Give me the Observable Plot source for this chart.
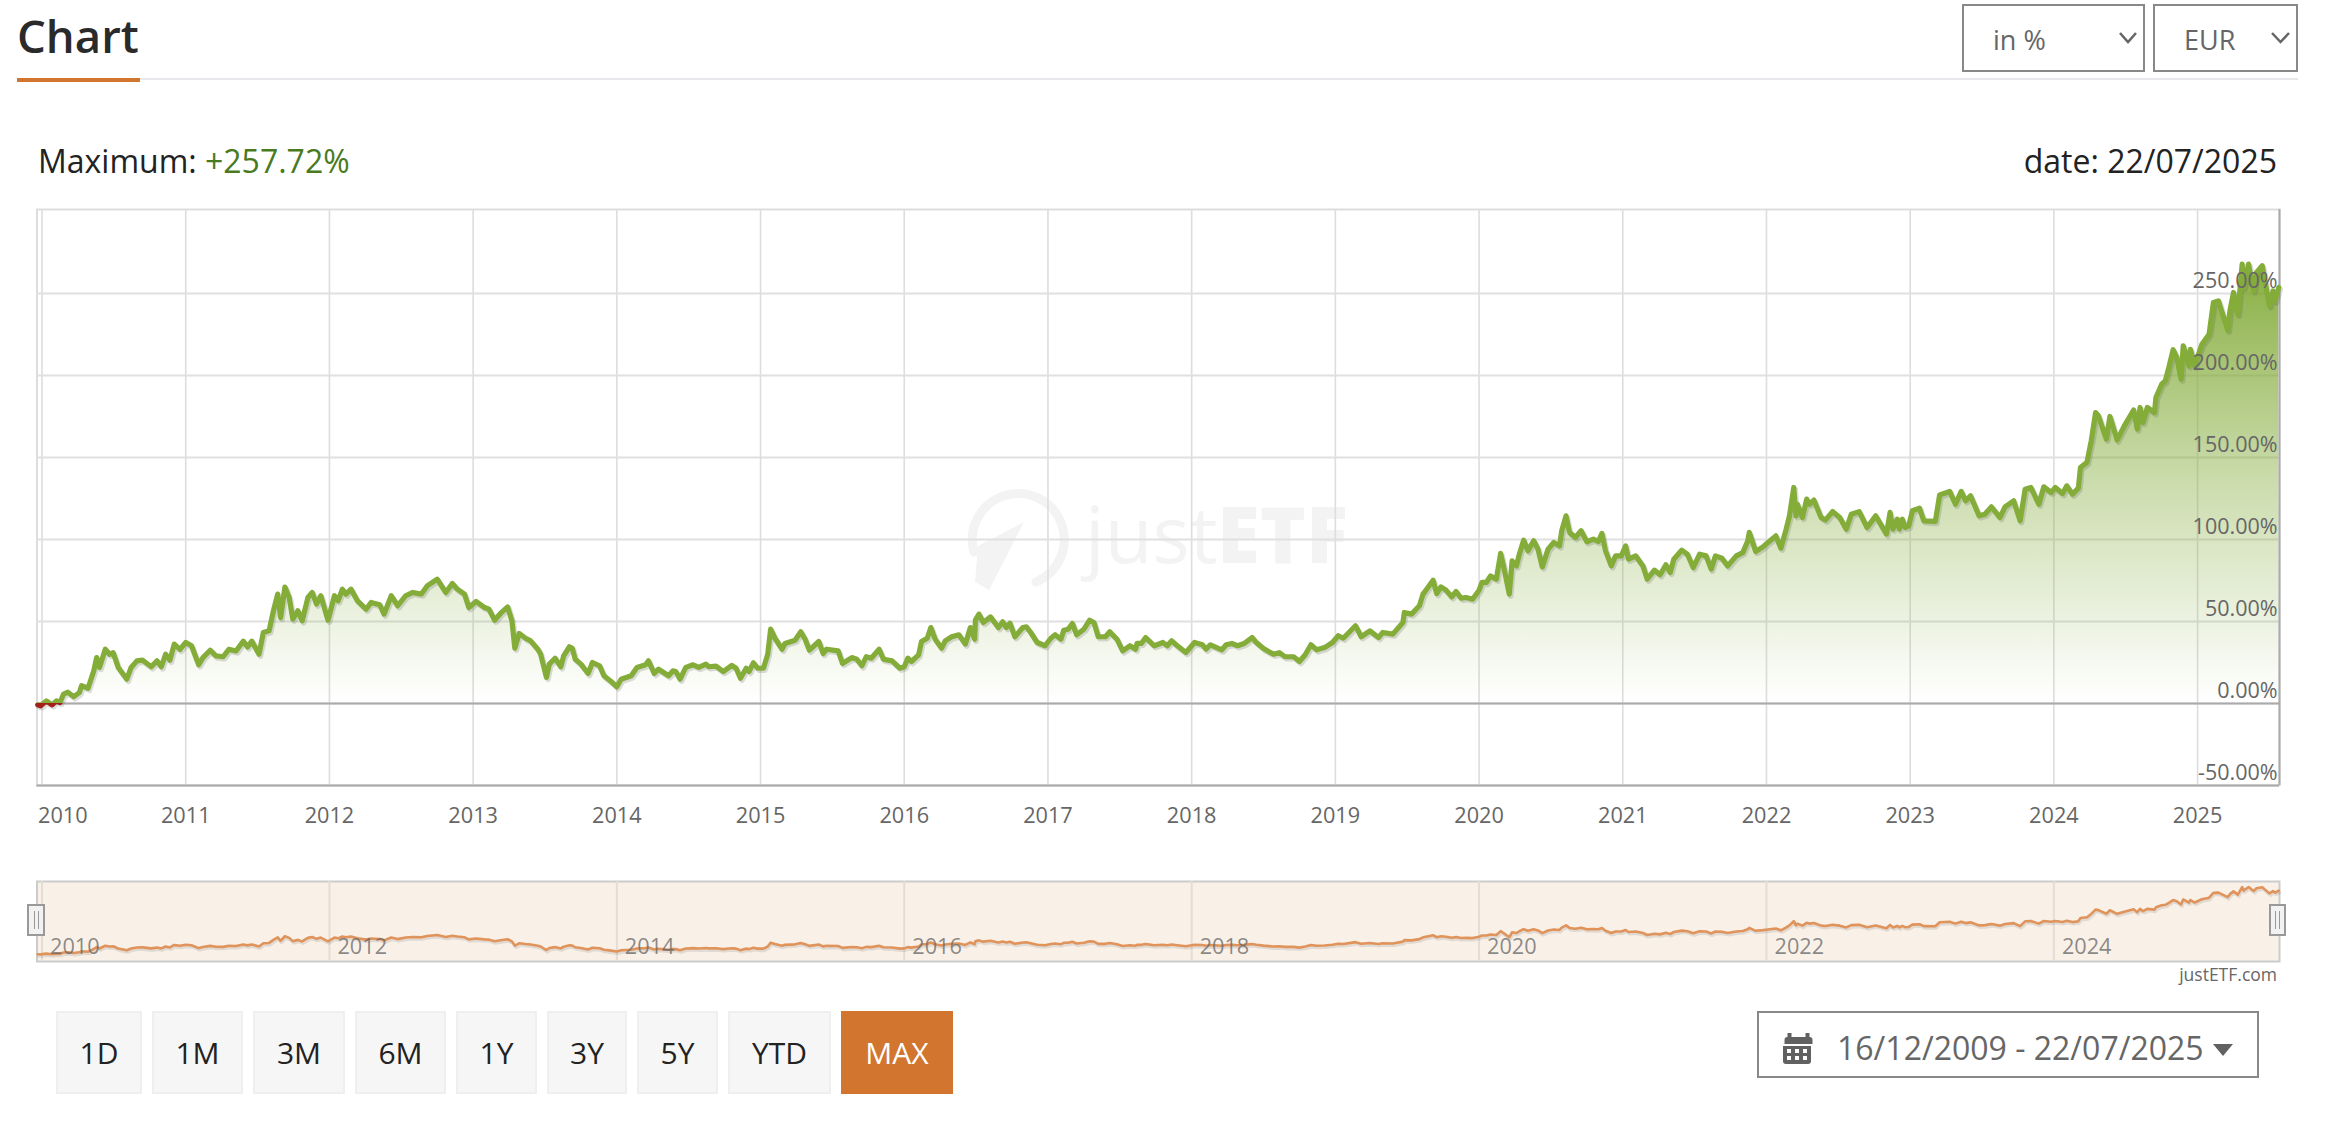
<!DOCTYPE html>
<html><head><meta charset="utf-8">
<script src="https://cdn.jsdelivr.net/npm/d3@7"></script>
<script src="https://cdn.jsdelivr.net/npm/@observablehq/plot@0.6"></script>
<style>
html,body{margin:0;padding:0;background:#fff}
#page{position:relative;width:2334px;height:1140px;overflow:hidden;font-family:"Open Sans",sans-serif;color:#222}
#page>*{position:absolute}
.t{line-height:1;white-space:nowrap}
.box{box-sizing:border-box;border:2.5px solid #888;background:#fff}
.btn{box-sizing:border-box;top:1011px;height:83px;background:#f6f6f6;border:2px solid #efefef;display:flex;align-items:center;justify-content:center;font-size:30px;color:#222}
#main,#nav{left:0;top:0;width:2334px;height:1140px}
#main svg,#nav svg{max-width:none;height:auto}
svg{position:absolute;left:0}
</style></head><body>
<div id="page">
  <div style="left:17px;top:78px;width:2281px;height:2px;background:#e6e8ec"></div>
  <div style="left:17px;top:78px;width:123px;height:4px;background:#d2752e"></div>
  <div class="t" style="left:17px;top:13px;font-size:45.500px;font-weight:600;color:#2a2a2a">Chart</div>
  <div class="box" style="left:1962px;top:4px;width:183px;height:68px"></div>
  <div class="t" style="left:1993px;top:26px;font-size:27px;color:#666">in %</div>
  <div class="box" style="left:2153px;top:4px;width:145px;height:68px"></div>
  <div class="t" style="left:2184px;top:26px;font-size:27px;color:#666">EUR</div>
  <svg style="left:0;top:0" width="2334" height="80"><path d="M2120 33l8 9 8-9M2272 33l8.500 9 8.500-9" fill="none" stroke="#666" stroke-width="2.500"/></svg>
  <div class="t" style="left:38px;top:145px;font-size:32px">Maximum: <span style="color:#4a7a1e">+257.72%</span></div>
  <div class="t" style="right:57px;top:145px;font-size:32px">date: 22/07/2025</div>
  <svg id="wm" style="left:0;top:0" width="2334" height="800">
    <g fill="#f3f3f3">
      <path d="M974 552a46 46 0 1 1 62 30" fill="none" stroke="#f3f3f3" stroke-width="9" stroke-linecap="round"/>
      <path d="M1024 522l-46 24l-3 36l14 8z"/>
      <text x="1085" y="563" font-size="78" font-family="Open Sans">just</text>
      <text x="1217" y="563" font-size="78" font-weight="800" font-family="Open Sans">ETF</text>
    </g>
  </svg>
  <div id="main"></div>
  <div id="nav"></div>
  <div class="t" style="right:57px;top:966px;font-size:17.500px;color:#666">justETF.com</div>
  <div class="box" style="left:27px;top:904px;width:18px;height:32px;background:#f2f2f2;border:2px solid #999"></div>
  <div style="left:34px;top:911px;width:3px;height:18px;border-left:1.500px solid #999;border-right:1.500px solid #999"></div>
  <div class="box" style="left:2269px;top:904px;width:17px;height:32px;background:#f2f2f2;border:2px solid #999"></div>
  <div style="left:2275px;top:911px;width:3px;height:18px;border-left:1.500px solid #999;border-right:1.500px solid #999"></div>
  <div class="box" style="left:1757px;top:1011px;width:502px;height:67px"></div>
  <svg style="left:0;top:1px" width="2334" height="1140">
    <g fill="#616161">
      <path d="M1789 1032h4v4h14v-4h4v4h0a3 3 0 0 1 3 3v4h-28v-4a3 3 0 0 1 3-3z" transform="translate(-1.500 0)"/>
      <path fill-rule="evenodd" d="M1783 1045h28v15a3 3 0 0 1-3 3h-22a3 3 0 0 1-3-3zM1787 1048v4h4v-4zM1795 1048v4h4v-4zM1803 1048v4h4v-4zM1787 1055v4h4v-4zM1795 1055v4h4v-4zM1803 1055v4h4v-4z"/>
      <path d="M2213 1043h20l-10 12z"/>
    </g>
  </svg>
  <div class="t" style="left:1837px;top:1032px;font-size:32px;color:#666">16/12/2009 - 22/07/2025</div>
</div>
<script>
// Performance in %: [decimal year, percent]
const seg2010 = [[2009.97,-0.8],[2009.99,-1.4],[2010.03,1.6],[2010.07,-0.8],[2010.10,1.6],[2010.125,0.6],[2010.15,5.7],[2010.18,6.9],[2010.22,4.1],[2010.26,6.7],[2010.275,10.8],[2010.32,9.3],[2010.36,19.9],[2010.38,28],[2010.40,22],[2010.44,33.1],[2010.47,30],[2010.495,31],[2010.53,22],[2010.59,14.8],[2010.62,22],[2010.66,26],[2010.70,26.4],[2010.76,22.4],[2010.80,26],[2010.83,22.4],[2010.86,30],[2010.89,26.4],[2010.92,36.2],[2010.96,33]];
const seg2011 = [[2011.00,37.2],[2011.04,35.2],[2011.09,23.6],[2011.12,28],[2011.17,32.5],[2011.21,29],[2011.26,28.5],[2011.30,33],[2011.35,32],[2011.40,38],[2011.43,34.5],[2011.46,38],[2011.51,30],[2011.54,43.3],[2011.58,44.3],[2011.61,56.5],[2011.64,66.7],[2011.66,52.4],[2011.69,71],[2011.72,64.6],[2011.745,51.4],[2011.78,56.5],[2011.81,50.4],[2011.85,64.6],[2011.88,67.7],[2011.91,60.6],[2011.94,65.7],[2011.99,50.8]];
const seg2012 = [[2012.035,65.7],[2012.06,62.6],[2012.09,69.7],[2012.115,66.7],[2012.15,69.7],[2012.195,62.6],[2012.255,57.5],[2012.29,61.6],[2012.35,60.2],[2012.38,54.5],[2012.43,65.7],[2012.475,59.6],[2012.53,65.7],[2012.58,67.7],[2012.64,66.7],[2012.68,71.7],[2012.75,75.8],[2012.81,67.7],[2012.855,73.2],[2012.89,69.7],[2012.94,66.7],[2012.97,58.5]];
const seg2013 = [[2013.02,62.2],[2013.08,58.5],[2013.11,57.5],[2013.15,50.8],[2013.19,54.9],[2013.24,58.9],[2013.27,50.4],[2013.29,33.7],[2013.32,42.7],[2013.365,39.8],[2013.40,38.2],[2013.45,33.1],[2013.47,30],[2013.51,15.9],[2013.53,24],[2013.57,27.6],[2013.61,22.4],[2013.63,29],[2013.67,34.6],[2013.69,33.7],[2013.71,27],[2013.75,24],[2013.80,18.3],[2013.83,25],[2013.88,23],[2013.91,16.9],[2013.96,13.4]];
const seg2014 = [[2014.00,10.2],[2014.03,14.8],[2014.10,16.9],[2014.14,22],[2014.20,23.6],[2014.22,26],[2014.26,18.3],[2014.29,20.9],[2014.36,16.9],[2014.39,19.9],[2014.41,19.5],[2014.44,14.8],[2014.48,22],[2014.53,23.6],[2014.57,22],[2014.62,24],[2014.64,22.4],[2014.69,22.8],[2014.74,19.5],[2014.80,23.2],[2014.83,21.5],[2014.86,15.4],[2014.90,21.5],[2014.92,19.5],[2014.95,24.8],[2014.98,21.5]];
const seg2015 = [[2015.02,21.5],[2015.05,30],[2015.07,45.3],[2015.10,39.8],[2015.15,33.1],[2015.17,36.6],[2015.24,38.6],[2015.28,43.7],[2015.31,39.2],[2015.34,32.5],[2015.405,37.8],[2015.435,30.5],[2015.46,33.1],[2015.54,32.1],[2015.57,24.4],[2015.635,28],[2015.67,27],[2015.705,23],[2015.735,28.5],[2015.77,27.6],[2015.825,33.1],[2015.855,27],[2015.915,26],[2015.97,21.5]];
const seg2016 = [[2016.00,22.4],[2016.025,27.6],[2016.05,25.6],[2016.10,29.7],[2016.12,37.8],[2016.16,39.8],[2016.185,46.3],[2016.215,39.2],[2016.26,33.7],[2016.285,38.2],[2016.33,40.7],[2016.38,41.9],[2016.425,36.2],[2016.46,46.3],[2016.49,39.2],[2016.495,50.8],[2016.52,54.5],[2016.55,49.4],[2016.60,52.8],[2016.655,46.3],[2016.685,49.8],[2016.71,46.3],[2016.735,49],[2016.77,40.7],[2016.825,46.3],[2016.85,46.7],[2016.88,43.3],[2016.925,37.2],[2016.98,35.2]];
const seg2017 = [[2017.02,39.8],[2017.05,41.9],[2017.09,39.2],[2017.11,44.7],[2017.14,45.3],[2017.17,48.8],[2017.20,41.9],[2017.25,45.3],[2017.29,50.8],[2017.32,49.4],[2017.35,40.7],[2017.40,40.7],[2017.43,43.7],[2017.48,39.2],[2017.52,32.1],[2017.57,35.2],[2017.61,33.1],[2017.62,36.6],[2017.65,36.6],[2017.68,40.2],[2017.74,35.2],[2017.80,37.2],[2017.83,35.2],[2017.86,38.2],[2017.90,35.2],[2017.96,31.1]];
const seg2018 = [[2018.02,37.2],[2018.075,35.8],[2018.10,33.1],[2018.13,35.8],[2018.21,32.7],[2018.24,35.8],[2018.28,36.6],[2018.32,35.2],[2018.365,36.6],[2018.42,40.2],[2018.45,37.2],[2018.50,33.5],[2018.57,30],[2018.61,31],[2018.65,28.5],[2018.71,28.5],[2018.75,25.6],[2018.79,29.7],[2018.83,35.8],[2018.87,32.7],[2018.925,34.1],[2018.98,37.2]];
const seg2019 = [[2019.02,41.3],[2019.055,39.8],[2019.14,47.4],[2019.18,40.7],[2019.24,44.3],[2019.30,40.2],[2019.33,43.3],[2019.40,42.3],[2019.47,49.4],[2019.48,55.5],[2019.53,54.5],[2019.585,59.6],[2019.61,66.7],[2019.64,70.3],[2019.68,75.2],[2019.705,67],[2019.735,71.1],[2019.77,69.1],[2019.81,65],[2019.84,68.3],[2019.875,64.2],[2019.91,64.6],[2019.955,63.6]];
const seg2020 = [[2020.00,69.1],[2020.02,73.8],[2020.05,73.8],[2020.08,77.8],[2020.12,75.8],[2020.15,91.5],[2020.175,81.9],[2020.21,66.7],[2020.23,87],[2020.26,83.9],[2020.28,91],[2020.31,99.6],[2020.34,93.1],[2020.38,99.2],[2020.41,94.1],[2020.44,83.3],[2020.48,94.1],[2020.52,98.2],[2020.56,96.1],[2020.575,105.3],[2020.605,114.4],[2020.63,104.3],[2020.67,101.2],[2020.71,105.3],[2020.75,98.6],[2020.795,100.2],[2020.83,98.8],[2020.855,103.7],[2020.88,93.1],[2020.92,83.9],[2020.95,90],[2020.99,90]];
const seg2021 = [[2021.02,96.1],[2021.04,88],[2021.09,90],[2021.14,83.9],[2021.17,75.8],[2021.22,81.3],[2021.26,78.5],[2021.30,84.6],[2021.33,79.9],[2021.355,88],[2021.41,93.5],[2021.45,91],[2021.49,82.9],[2021.535,91],[2021.58,90],[2021.615,81.9],[2021.645,90],[2021.69,88.6],[2021.73,83.9],[2021.79,90],[2021.835,92],[2021.87,99.2],[2021.88,104.3],[2021.925,92.7],[2021.975,95.5]];
const seg2022 = [[2022.01,98.2],[2022.065,102.2],[2022.10,94.7],[2022.135,105.7],[2022.16,114.4],[2022.19,131.7],[2022.205,114.4],[2022.215,121.5],[2022.25,113.4],[2022.28,124.6],[2022.30,121.5],[2022.33,124],[2022.38,113.4],[2022.41,111.8],[2022.46,117],[2022.51,113.4],[2022.555,106.3],[2022.59,115.4],[2022.645,117],[2022.70,107.3],[2022.76,114.4],[2022.835,103.3],[2022.86,116.5],[2022.88,106.3],[2022.91,112.4],[2022.925,106.3],[2022.945,112.4],[2022.965,107.3],[2022.99,108.3]];
const seg2023 = [[2023.015,117.5],[2023.065,119.1],[2023.095,111.4],[2023.175,111],[2023.205,127.2],[2023.275,129.3],[2023.315,121.5],[2023.355,129.3],[2023.385,123.6],[2023.42,126.6],[2023.48,114.4],[2023.52,115.4],[2023.565,119.9],[2023.625,113.4],[2023.66,119.9],[2023.72,123.6],[2023.765,111.4],[2023.80,130.7],[2023.84,131.7],[2023.895,121.5],[2023.93,132.1],[2023.98,128.7]];
const seg2024 = [[2024.01,131.7],[2024.06,128],[2024.09,132.7],[2024.13,127.6],[2024.17,131.3],[2024.185,143.9],[2024.23,147],[2024.26,160.2],[2024.29,177.4],[2024.31,175.4],[2024.365,161.2],[2024.39,175],[2024.44,160.6],[2024.49,169.3],[2024.555,178.9],[2024.58,167.3],[2024.60,180.5],[2024.62,171.3],[2024.65,180.5],[2024.70,177.4],[2024.71,186.6],[2024.75,194.7],[2024.775,196.7],[2024.80,204.9],[2024.83,215.7],[2024.855,211],[2024.885,197.8],[2024.90,218.1],[2024.94,205.9],[2024.95,216],[2024.98,205.9]];
const seg2025 = [[2025.03,219.1],[2025.08,225.2],[2025.11,244.5],[2025.145,245.5],[2025.21,227.6],[2025.225,239.4],[2025.25,250.6],[2025.28,237.4],[2025.31,267.9],[2025.32,253.7],[2025.355,267.9],[2025.39,251.6],[2025.41,262.8],[2025.45,266.9],[2025.50,242.5],[2025.525,251.6],[2025.54,245.5],[2025.565,253.7]];

const yearTicks = [2011,2012,2013,2014,2015,2016,2017,2018,2019,2020,2021,2022,2023,2024,2025];
const firstYear = [2010];
const navYears = [2010,2012,2014,2016,2018,2020,2022,2024];
const pctTicks = [-50,0,50,100,150,200,250];
const ranges = ["1D","1M","3M","6M","1Y","3Y","5Y","YTD","MAX"];

const series = [seg2010,seg2011,seg2012,seg2013,seg2014,seg2015,seg2016,seg2017,seg2018,seg2019,seg2020,seg2021,seg2022,seg2023,seg2024,seg2025].flat();
const X = d => d[0], V = d => d[1];
const xDomain = [2009.965, 2025.57];

const defs = (i, {y}) => {
  const d = d3.create("svg:defs");
  const a = d.append("linearGradient").attr("id","areaGrad").attr("x1",0).attr("x2",0).attr("y1",0).attr("y2",1);
  a.append("stop").attr("offset",0).attr("stop-color","#7ea730").attr("stop-opacity",.92);
  a.append("stop").attr("offset",.5).attr("stop-color","#86ad3e").attr("stop-opacity",.42);
  a.append("stop").attr("offset",.99).attr("stop-color","#86ad3e").attr("stop-opacity",0);
  const l = d.append("linearGradient").attr("id","lineGrad").attr("gradientUnits","userSpaceOnUse")
    .attr("x1",0).attr("x2",0).attr("y1",y(0)).attr("y2",y(0)+1);
  l.append("stop").attr("offset",0).attr("stop-color","#84ac39");
  l.append("stop").attr("offset",0).attr("stop-color","#a3201a");
  return d.node();
};

const main = Plot.plot({
  width:2334, height:850, marginLeft:36.5, marginRight:55, marginTop:209, marginBottom:65,
  style:{background:"transparent",fontFamily:"Open Sans",overflow:"visible"},
  x:{domain:xDomain,axis:null}, y:{domain:[-50,301.2],axis:null},
  marks:[
    defs,
    Plot.frame({stroke:"#ddd",strokeWidth:2}),
    Plot.ruleX([...firstYear,...yearTicks],{stroke:"#ddd",strokeWidth:1.6}),
    Plot.ruleY(pctTicks,{stroke:"#e0e0e0",strokeWidth:2}),
    Plot.areaY(series,{x:X,y:V,fill:"url(#areaGrad)"}),
    Plot.ruleY([0],{stroke:"#aaa",strokeWidth:2}),
    Plot.ruleY([-50],{stroke:"#aaa",strokeWidth:2}),
    Plot.ruleX([xDomain[1]],{stroke:"#aaa",strokeWidth:2}),
    Plot.line(series,{x:X,y:V,stroke:"#555",strokeOpacity:.2,strokeWidth:5.5,dx:1.5,dy:2}),
    Plot.line(series,{x:X,y:V,stroke:"url(#lineGrad)",strokeWidth:5.2}),
    Plot.text(pctTicks,{y:d=>d,text:d=>d.toFixed(2)+"%",frameAnchor:"right",textAnchor:"end",dx:-2,dy:-12,fontSize:21.5,fill:"#666"}),
    Plot.text(yearTicks,{x:d=>d,text:String,frameAnchor:"bottom",dy:37,fontSize:21.7,fill:"#666"}),
    Plot.text(firstYear,{x:d=>d,text:String,frameAnchor:"bottom",textAnchor:"start",dx:-4,dy:37,fontSize:21.7,fill:"#666"})
  ]
});
main.style.top="0px";
document.getElementById("main").appendChild(main);

const nav = Plot.plot({
  width:2334, height:100, marginLeft:36.5, marginRight:55, marginTop:11, marginBottom:9,
  style:{background:"transparent",fontFamily:"Open Sans",overflow:"visible"},
  x:{domain:xDomain,axis:null}, y:{domain:[-30,290],axis:null},
  marks:[
    Plot.frame({fill:"#f9f1e8",stroke:"#ccc",strokeWidth:2}),
    Plot.ruleX(navYears,{stroke:"#e4ddd4",strokeWidth:2}),
    Plot.line(series,{x:X,y:V,stroke:"#555",strokeOpacity:.15,strokeWidth:3,dx:1,dy:2}),
    Plot.line(series,{x:X,y:V,stroke:"#e0935a",strokeWidth:2.6}),
    Plot.text(navYears,{x:d=>d,text:String,frameAnchor:"bottom",textAnchor:"start",dx:8,dy:-8,fontSize:21.7,fill:"#666",fillOpacity:.75})
  ]
});
nav.style.top="870px";
document.getElementById("nav").appendChild(nav);

const lefts = [56,152,253,355,456,547,637,728,841], rights=[142,243,345,446,537,627,718,831,953];
const host = document.getElementById("page");
ranges.forEach((r,i)=>{
  const b=document.createElement("div"); b.className="btn"; b.textContent=r;
  b.style.left=lefts[i]+"px"; b.style.width=(rights[i]-lefts[i])+"px";
  if(r==="MAX"){b.style.background="#d2752e";b.style.borderColor="#d2752e";b.style.color="#fff";}
  host.appendChild(b);
});
</script>
</body></html>
